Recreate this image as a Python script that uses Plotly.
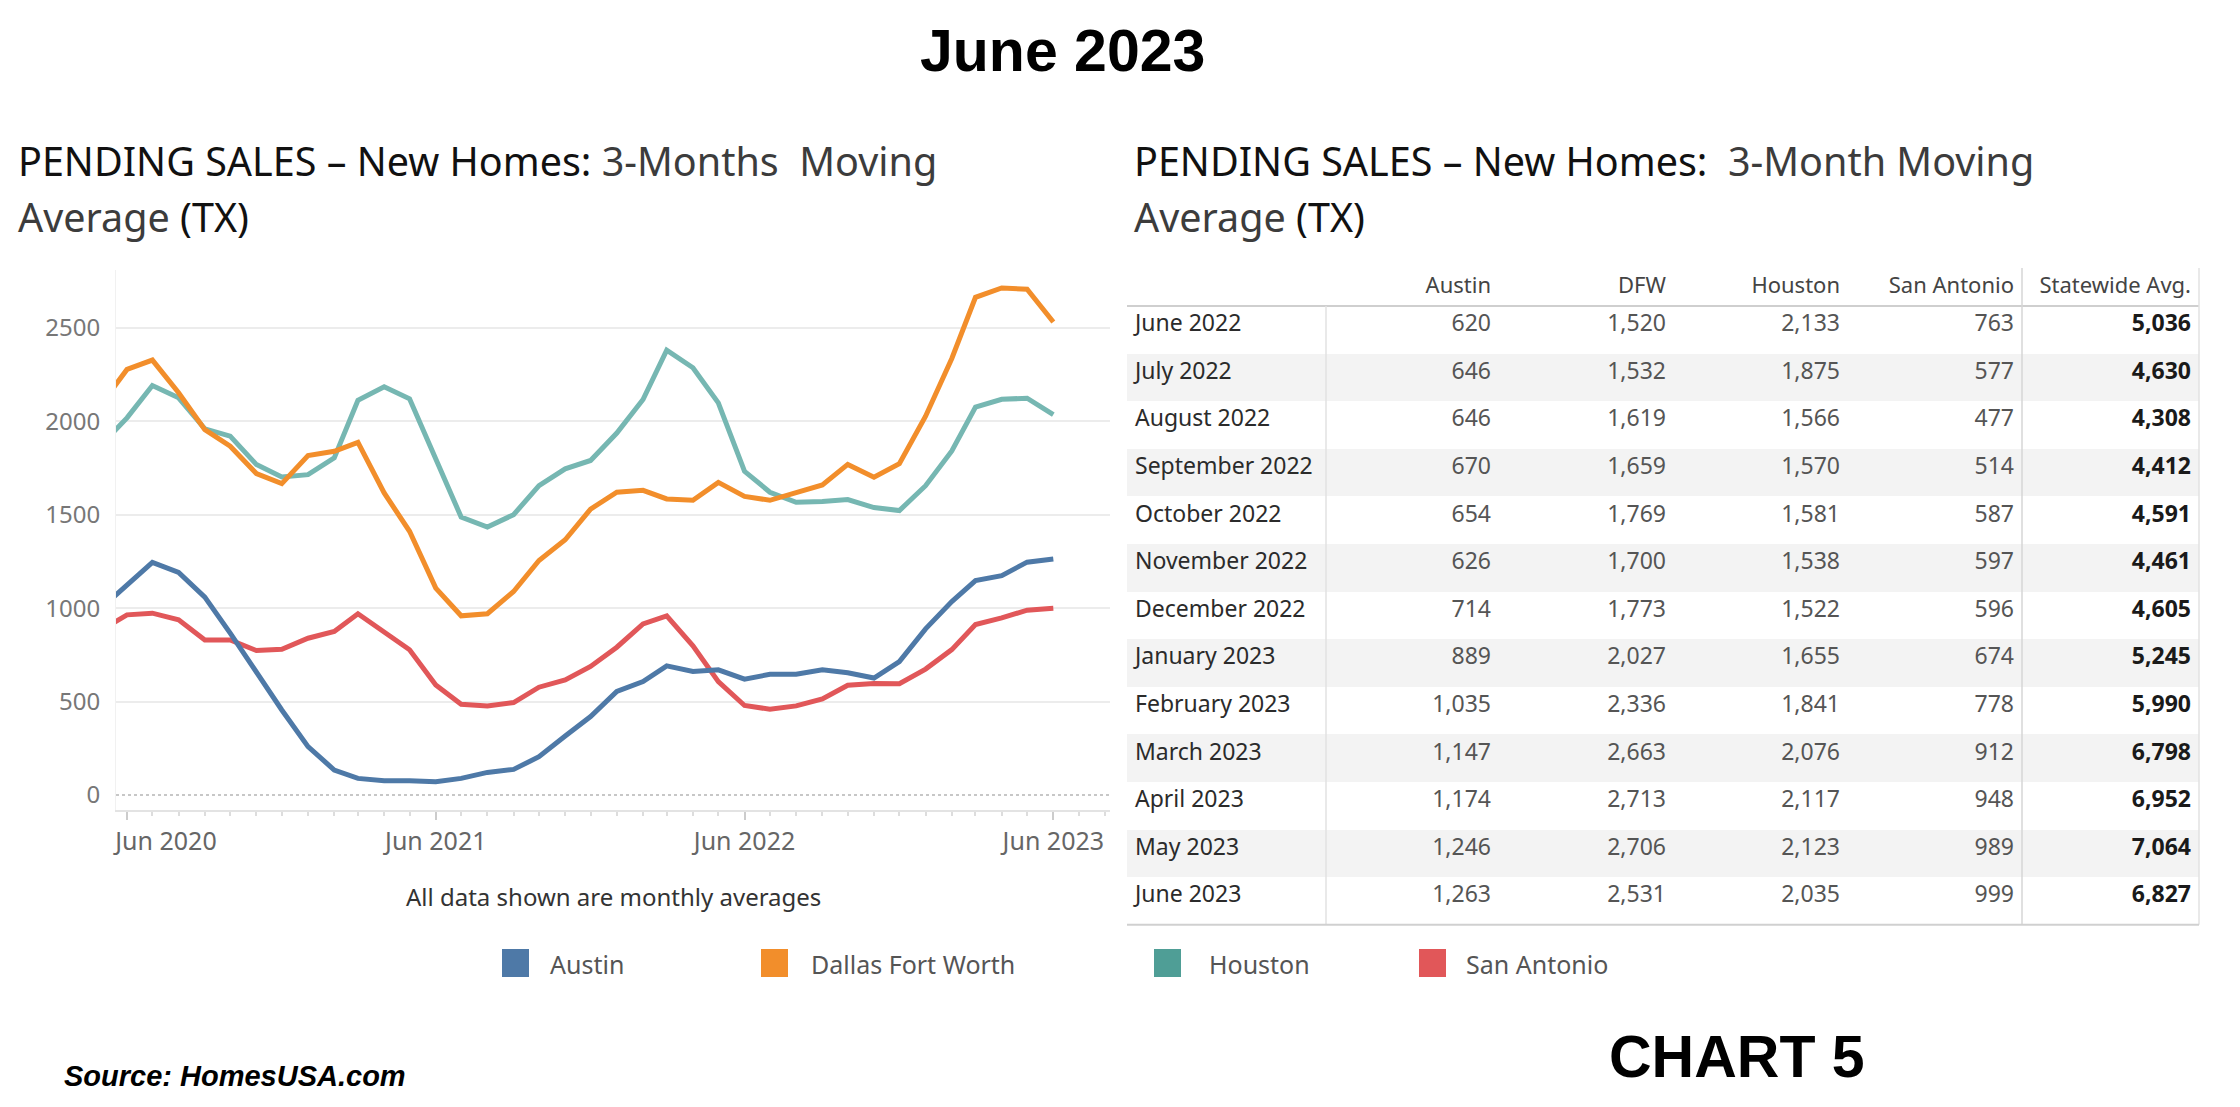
import plotly.graph_objects as go
import pandas as pd

# ---------------- data (line chart, May 2020 .. Jun 2023) ----------------
months = pd.date_range("2020-05-01", "2023-06-01", freq="MS")

austin = [998, 1125, 1245, 1191, 1059, 866, 652, 455,
          259, 134, 89, 77, 77, 71, 89, 121, 137, 205, 316, 420,
          554, 607, 691, 661, 670, 620, 646, 646, 670, 654, 626, 714,
          889, 1035, 1147, 1174, 1246, 1263]
dfw = [2087, 2277, 2327, 2152, 1955, 1866, 1720, 1666,
       1816, 1839, 1887, 1616, 1411, 1107, 959, 970, 1089, 1255, 1366, 1530,
       1620, 1630, 1584, 1577, 1673, 1598, 1577, 1619, 1659, 1769, 1700, 1773,
       2027, 2336, 2663, 2713, 2706, 2531]
houston = [1870, 2018, 2191, 2125, 1959, 1920, 1768, 1702,
           1714, 1804, 2112, 2184, 2120, 1804, 1487, 1434, 1500, 1655, 1745, 1790,
           1937, 2116, 2380, 2286, 2098, 1732, 1620, 1566, 1570, 1581, 1538, 1522,
           1655, 1841, 2076, 2117, 2123, 2035]
san_antonio = [882, 964, 973, 938, 830, 830, 773, 780,
               839, 875, 970, 870, 777, 589, 486, 477, 495, 577, 616, 688,
               791, 916, 959, 798, 607, 479, 459, 477, 514, 587, 597, 596,
               674, 778, 912, 948, 989, 999]

series_names = ["Austin", "Dallas Fort Worth", "Houston", "San Antonio"]
line_colors = ["#4e79a7", "#f28e2b", "#76b7b2", "#e15759"]
legend_colors = ["#4e79a7", "#f28e2b", "#4f9e96", "#e15759"]

x_tick_vals = ["2020-06-01", "2021-06-01", "2022-06-01", "2023-06-01"]
x_tick_text = ["Jun 2020", "Jun 2021", "Jun 2022", "Jun 2023"]
y_tick_vals = [0, 500, 1000, 1500, 2000, 2500]

# ---------------- data (table) ----------------
table_months = ["June 2022", "July 2022", "August 2022", "September 2022",
                "October 2022", "November 2022", "December 2022", "January 2023",
                "February 2023", "March 2023", "April 2023", "May 2023", "June 2023"]
t_austin = [620, 646, 646, 670, 654, 626, 714, 889, 1035, 1147, 1174, 1246, 1263]
t_dfw = [1520, 1532, 1619, 1659, 1769, 1700, 1773, 2027, 2336, 2663, 2713, 2706, 2531]
t_houston = [2133, 1875, 1566, 1570, 1581, 1538, 1522, 1655, 1841, 2076, 2117, 2123, 2035]
t_sa = [763, 577, 477, 514, 587, 597, 596, 674, 778, 912, 948, 989, 999]
t_state = [5036, 4630, 4308, 4412, 4591, 4461, 4605, 5245, 5990, 6798, 6952, 7064, 6827]
table_header = ["", "Austin", "DFW", "Houston", "San Antonio", "Statewide Avg."]

# ---------------- helpers ----------------
W, H = 2240, 1107
def px(x):
    return x / W
def py(y):
    return 1 - y / H

TF = "Noto Sans"

fig = go.Figure()

draw_order = [3, 2, 1, 0]
all_series = [austin, dfw, houston, san_antonio]
for i in draw_order:
    fig.add_trace(go.Scatter(
        x=months, y=all_series[i], mode="lines", name=series_names[i],
        line=dict(color=line_colors[i], width=5), showlegend=False,
        hoverinfo="skip", xaxis="x", yaxis="y"))

# table
TOP = 268
HEAD_H = 38
ROW_H = 47.6
COLW = [199, 173, 175, 174, 174, 177]
row_fills = ["#ffffff" if k % 2 == 0 else "#f3f3f3" for k in range(len(table_months))]
# keep each month label on one line
month_labels = [m.replace(" ", "\u00a0") for m in table_months]
fig.add_trace(go.Table(
    domain=dict(x=[px(1127), px(2199)], y=[py(945), py(TOP)]),
    columnwidth=COLW,
    header=dict(values=table_header,
                align=["left", "right", "right", "right", "right", "right"],
                fill=dict(color="white"),
                line=dict(width=0, color="white"),
                font=dict(family=TF, size=22, color="#444"),
                height=HEAD_H),
    cells=dict(values=[month_labels, t_austin, t_dfw, t_houston, t_sa, t_state],
               format=[None, ",", ",", ",", ",", ","],
               align=["left", "right", "right", "right", "right", "right"],
               fill=dict(color=[row_fills] * 6),
               line=dict(width=0, color="white"),
               font=dict(family=TF, size=23,
                         color=["#2b2b2b", "#555", "#555", "#555", "#555", "#1a1a1a"],
                         weight=[400, 400, 400, 400, 400, 700]),
               height=ROW_H),
))

shapes = []
# zero line: cover the solid gridline, then draw it dotted
shapes.append(dict(type="line", xref="x domain", yref="y", x0=0, x1=1, y0=0, y1=0,
                   line=dict(color="white", width=3)))
shapes.append(dict(type="line", xref="x domain", yref="y", x0=0, x1=1, y0=0, y1=0,
                   line=dict(color="#b5b5b5", width=1.5, dash="dot")))

# table rules
rows_top = TOP + HEAD_H
rows_bot = rows_top + ROW_H * len(table_months)
col1_x = 1127 + COLW[0]
last_x = 2199 - COLW[-1]
def pline(x0, y0, x1, y1, color, width):
    shapes.append(dict(type="line", xref="paper", yref="paper",
                       x0=px(x0), x1=px(x1), y0=py(y0), y1=py(y1),
                       line=dict(color=color, width=width)))
pline(1127, rows_top, 2199, rows_top, "#cfcfcf", 2)
pline(col1_x, rows_top, col1_x, rows_bot, "#e2e2e2", 1.5)
pline(last_x, TOP, last_x, rows_bot, "#d6d6d6", 1.5)
pline(2199, TOP, 2199, rows_bot, "#e2e2e2", 1.5)
pline(1127, rows_bot, 2199, rows_bot, "#d0d0d0", 2)

# legend swatches + labels
legend_sw_x = [502, 761, 1154, 1419]
legend_tx_x = [548, 809, 1207, 1464]
annotations = []
for i in range(4):
    shapes.append(dict(type="rect", xref="paper", yref="paper",
                       x0=px(legend_sw_x[i]), x1=px(legend_sw_x[i] + 27),
                       y0=py(977), y1=py(949),
                       fillcolor=legend_colors[i], line=dict(width=0)))
    annotations.append(dict(text=series_names[i], xref="paper", yref="paper",
                            x=px(legend_tx_x[i]), y=py(964), xanchor="left", yanchor="middle",
                            showarrow=False, font=dict(family=TF, size=25, color="#555")))

# titles
annotations.append(dict(text="<b>June 2023</b>", xref="paper", yref="paper",
                        x=px(1062), y=py(51), xanchor="center", yanchor="middle",
                        showarrow=False,
                        font=dict(family="Liberation Sans, Arial", size=59, color="#000")))

def title_lines(x, line1_dark, line1_gray):
    annotations.append(dict(
        text=("<span style='color:#111'>" + line1_dark + "</span>"
              "<span style='color:#3c3c3c'>" + line1_gray + "</span>"),
        xref="paper", yref="paper", x=px(x), y=py(161), xanchor="left", yanchor="middle",
        showarrow=False, font=dict(family=TF, size=39.5, color="#111")))
    annotations.append(dict(
        text="<span style='color:#3c3c3c'>Average </span><span style='color:#111'>(TX)</span>",
        xref="paper", yref="paper", x=px(x), y=py(217), xanchor="left", yanchor="middle",
        showarrow=False, font=dict(family=TF, size=39.5, color="#111")))

title_lines(16, "PENDING SALES – New Homes: ", "3-Months\u00a0 Moving")
title_lines(1132, "PENDING SALES – New Homes:\u00a0 ", "3-Month Moving")

annotations.append(dict(text="All data shown are monthly averages", xref="paper", yref="paper",
                        x=px(613), y=py(896), xanchor="center", yanchor="middle",
                        showarrow=False, font=dict(family=TF, size=24, color="#333")))
annotations.append(dict(text="<b><i>Source: HomesUSA.com</i></b>", xref="paper", yref="paper",
                        x=px(62), y=py(1076), xanchor="left", yanchor="middle",
                        showarrow=False,
                        font=dict(family="Liberation Sans, Arial", size=29, color="#000")))
annotations.append(dict(text="<b>CHART 5</b>", xref="paper", yref="paper",
                        x=px(1737), y=py(1057), xanchor="center", yanchor="middle",
                        showarrow=False,
                        font=dict(family="Liberation Sans, Arial", size=59, color="#000")))

# first tick label is pushed right so it starts at the plot edge (as in the reference)
tick_text_shown = ["\u00a0" * 12 + x_tick_text[0]] + x_tick_text[1:]

fig.update_layout(
    width=W, height=H, autosize=False,
    margin=dict(l=0, r=0, t=0, b=0, pad=0, autoexpand=False),
    paper_bgcolor="white", plot_bgcolor="white",
    showlegend=False,
    shapes=shapes, annotations=annotations,
    xaxis=dict(domain=[px(116), px(1110)], type="date", automargin=False,
               range=["2020-05-19", "2023-08-07"],
               tickvals=x_tick_vals, ticktext=tick_text_shown,
               ticks="outside", ticklen=8, tickcolor="#cccccc", tickwidth=1.5,
               showline=True, linecolor="#e3e3e3", linewidth=1.5,
               showgrid=False, zeroline=False,
               minor=dict(ticks="outside", ticklen=4, tickcolor="#dddddd",
                          dtick="M1", tick0="2020-06-01", showgrid=False),
               tickfont=dict(family=TF, size=25, color="#666"),
               ticklabelstandoff=0),
    yaxis=dict(domain=[py(810), py(270)], range=[-80, 2809], automargin=False,
               tickvals=y_tick_vals, ticks="",
               showgrid=True, gridcolor="#ececec", gridwidth=1.5,
               zeroline=False, showline=True, linecolor="#f1f1f1", linewidth=1,
               tickfont=dict(family=TF, size=24, color="#777"),
               ticklabelstandoff=10),
)

fig.write_html("out.html")
